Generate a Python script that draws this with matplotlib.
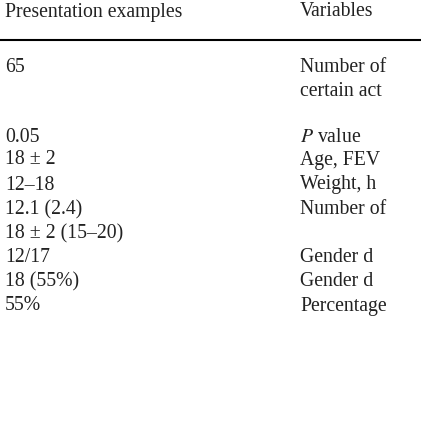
import matplotlib
matplotlib.use("Agg")
import matplotlib.pyplot as plt

header = ["Presentation examples", "Variables"]
examples = ["65", "", "0.05", "18 ± 2", "12–18", "12.1 (2.4)", "18 ± 2 (15–20)", "12/17", "18 (55%)", "55%"]
variables = ["Number of", "certain act", "$P$ value", "Age, FEV", "Weight, h", "Number of", "", "Gender d", "Gender d", "Percentage"]
row_y = [68, 92, 137, 160, 185, 210, 234, 258, 282, 306]

W = 421
fig = plt.figure(figsize=(4.21, 4.21), dpi=100)
plt.rcParams['font.family'] = ['Liberation Serif', 'DejaVu Serif']
plt.rcParams['mathtext.fontset'] = 'stix'
fs = 14.2
def fy(y): return 1 - y / W
fig.text(5 / W, fy(12), header[0], fontsize=fs, va='center', color='#222')
fig.text(300 / W, fy(12), header[1], fontsize=fs, va='center', color='#222')
fig.add_artist(plt.Line2D([0, 1], [fy(40), fy(40)], color='black', lw=1.5, transform=fig.transFigure))
for y, a, b in zip(row_y, examples, variables):
    fig.text(5 / W, fy(y), a, fontsize=fs, va='center', color='#222')
    fig.text(300 / W, fy(y), b, fontsize=fs, va='center', color='#222')
fig.savefig("out.png", dpi=100)
